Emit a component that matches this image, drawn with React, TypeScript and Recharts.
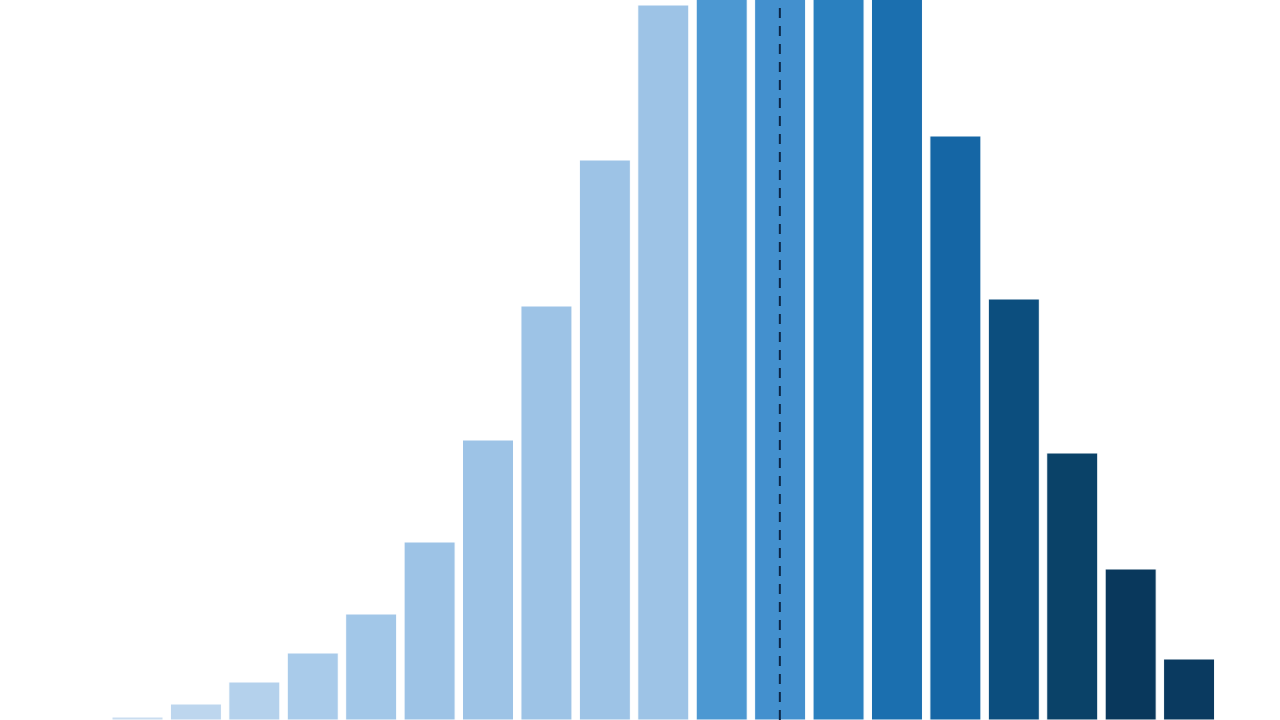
import React from 'react';
import { BarChart, Bar, XAxis, YAxis, Cell, ReferenceLine } from 'recharts';

const categories = ['b1','b2','b3','b4','b5','b6','b7','b8','b9','b10','b11','b12','b13','b14','b15','b16','b17','b18','b19'];
const values = [3, 16, 38, 67, 106, 178, 280, 414, 560, 715, 760, 790, 780, 750, 584, 421, 267, 151, 61];
const colors = ['#CADDF0','#BDD6EE','#B4D1EC','#A9CBEA','#A2C7E8','#9DC3E6','#9DC3E6','#9DC3E6','#9DC3E6','#9DC3E6','#4C98D2','#4390CE','#2A80BF','#1B6FAF','#1566A5','#0C4E7E','#0A4268','#09385C','#0A3A60'];
const markerCategory = 'b12';

const data = categories.map((c, i) => ({ name: c, value: values[i] }));

export default function App() {
  return (
    <div style={{ position: 'absolute', left: 0, top: 0, width: 1280, height: 720, background: '#fff' }}>
      <BarChart width={1280} height={720} data={data} margin={{ top: 0, right: 62, bottom: 0, left: 108 }} barSize={51}>
        <XAxis dataKey="name" hide />
        <YAxis hide domain={[0, 720]} allowDataOverflow />
        <Bar dataKey="value" isAnimationActive={false} stroke="#ffffff" strokeWidth={1}>
          {data.map((d, i) => (
            <Cell key={d.name} fill={colors[i]} />
          ))}
        </Bar>
        <ReferenceLine x={markerCategory} stroke="#0B2545" strokeWidth={2} strokeDasharray="10 8" />
      </BarChart>
    </div>
  );
}
